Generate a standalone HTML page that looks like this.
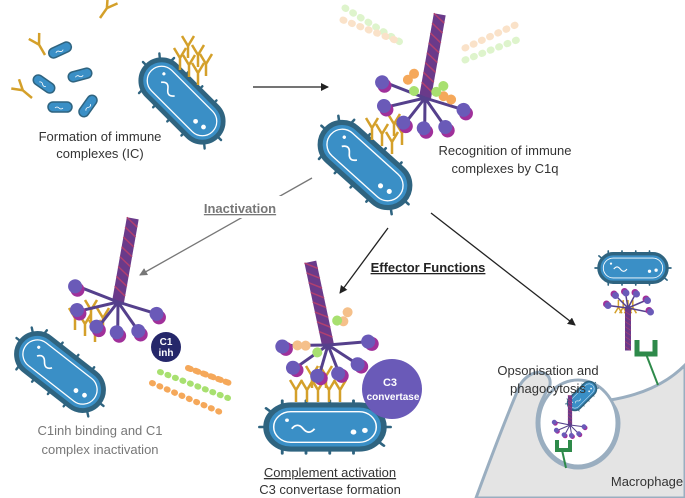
<!DOCTYPE html>
<html><head><meta charset="utf-8"><style>
html,body{margin:0;padding:0;background:#fff;width:685px;height:498px;overflow:hidden}
svg{display:block}
text{font-family:"Liberation Sans",sans-serif;font-size:13px;fill:#333}
</style></head><body>
<svg width="685" height="498" viewBox="0 0 685 498">
<defs>
<g id="bac">
 <g stroke="#2f6480" stroke-width="3" stroke-linecap="round">
  <line x1="-45" y1="-25" x2="-45" y2="-31"/><line x1="-20" y1="-25" x2="-20" y2="-31"/><line x1="5" y1="-25" x2="5" y2="-31"/><line x1="30" y1="-25" x2="30" y2="-31"/>
  <line x1="-45" y1="25" x2="-45" y2="31"/><line x1="-20" y1="25" x2="-20" y2="31"/><line x1="5" y1="25" x2="5" y2="31"/><line x1="30" y1="25" x2="30" y2="31"/>
  <line x1="-62" y1="0" x2="-69" y2="0"/><line x1="62" y1="0" x2="69" y2="0"/>
  <line x1="-56" y1="-17" x2="-62" y2="-22"/><line x1="56" y1="17" x2="62" y2="22"/>
 </g>
 <rect x="-62" y="-26" width="124" height="52" rx="26" fill="#3a8fc6" stroke="#2f6480" stroke-width="6"/>
 <rect x="-54" y="-18" width="108" height="36" rx="18" fill="none" stroke="#fff" stroke-width="1.6"/>
 <path d="M-35,2 q6,-8 12,0 t12,0" fill="none" stroke="#fff" stroke-width="2"/>
 <circle cx="-40" cy="-8" r="2" fill="#fff"/><circle cx="30" cy="6" r="3" fill="#fff"/><circle cx="42" cy="4" r="3" fill="#fff"/>
</g>
<g id="sbac">
 <rect x="-12" y="-5" width="24" height="10" rx="5" fill="#3a8fc6" stroke="#2f6480" stroke-width="1.5"/>
 <path d="M-5,1 q2,-2 4,0 t4,0" fill="none" stroke="#fff" stroke-width="0.8"/>
</g>
<g id="ab" fill="none" stroke="#d4a02a" stroke-width="2.5">
 <path d="M0,0 v-12 M0,-12 l-6,-10 M0,-12 l6,-10"/>
</g>
<g id="c1q">
 <rect x="-6" y="-85" width="12" height="85" fill="#6a3a8a"/>
 <path d="M-6,-85 l12,8 M-6,-75 l12,8 M-6,-65 l12,8 M-6,-55 l12,8 M-6,-45 l12,8 M-6,-35 l12,8 M-6,-25 l12,8 M-6,-15 l12,8" stroke="#b04070" stroke-width="1.5"/>
 <g stroke="#55408c" stroke-width="3" fill="none">
  <path d="M0,0 L-40,-8 M0,0 L-35,15 M0,0 L-15,28 M0,0 L5,30 M0,0 L25,25 M0,0 L40,5"/>
 </g>
 <g fill="#a0309a"><circle cx="-42" cy="-5" r="7"/><circle cx="-36" cy="18" r="7"/><circle cx="-14" cy="31" r="7"/><circle cx="7" cy="33" r="7"/><circle cx="28" cy="28" r="7"/><circle cx="43" cy="8" r="7"/></g>
 <g fill="#6a5ab8"><circle cx="-45" cy="-8" r="7"/><circle cx="-39" cy="15" r="7"/><circle cx="-17" cy="28" r="7"/><circle cx="4" cy="30" r="7"/><circle cx="25" cy="25" r="7"/><circle cx="40" cy="5" r="7"/></g>
</g>
<marker id="ah" markerWidth="8" markerHeight="8" refX="7" refY="4" orient="auto" markerUnits="userSpaceOnUse"><path d="M0,0 L8,4 L0,8z" fill="#222"/></marker>
<marker id="ahg" markerWidth="8" markerHeight="8" refX="7" refY="4" orient="auto" markerUnits="userSpaceOnUse"><path d="M0,0 L8,4 L0,8z" fill="#777"/></marker>
</defs>

<!-- macrophage -->
<path d="M476,498 C490,460 505,420 520,385 C530,368 552,368 550,385 C545,395 537,405 537,423 A41,45 0 0 0 619,423 C619,412 614,405 610,400 C640,395 665,385 685,365 L685,498 Z" fill="#e4e4e4" stroke="#9aaec0" stroke-width="3"/>
<ellipse cx="578" cy="423" rx="39" ry="43" fill="#fff" stroke="#9aaec0" stroke-width="3"/>

<!-- top left small -->
<g transform="translate(60,50) rotate(-25)"><use href="#sbac"/></g>
<g transform="translate(44,84) rotate(35)"><use href="#sbac"/></g>
<g transform="translate(80,75) rotate(-15)"><use href="#sbac"/></g>
<g transform="translate(60,107) rotate(0)"><use href="#sbac"/></g>
<g transform="translate(88,106) rotate(-55)"><use href="#sbac"/></g>
<g transform="translate(100,18) rotate(35)"><use href="#ab"/></g>
<g transform="translate(45,55) rotate(-30)"><use href="#ab"/></g>
<g transform="translate(32,98) rotate(-50)"><use href="#ab"/></g>

<!-- IC bacterium -->
<g transform="translate(182,101) rotate(45) scale(0.8)"><use href="#bac"/></g>
<g transform="translate(180,70)"><use href="#ab"/><g transform="translate(9,7)"><use href="#ab"/></g><g transform="translate(18,15)"><use href="#ab"/></g><g transform="translate(8,-12)"><use href="#ab"/></g><g transform="translate(18,-3)"><use href="#ab"/></g><g transform="translate(26,6)"><use href="#ab"/></g></g>

<!-- top right faded -->
<g opacity="0.45" stroke-width="7" stroke-linecap="round" fill="none">
<path d="M345,8 L405,45" stroke="#b8e890" stroke-dasharray="1 8"/>
<path d="M343,20 L395,40" stroke="#f5c08a" stroke-dasharray="1 8"/>
<path d="M465,48 L522,22" stroke="#f5c08a" stroke-dasharray="1 8"/>
<path d="M465,60 L522,38" stroke="#b8e890" stroke-dasharray="1 8"/>
</g>
<g transform="translate(365,165) rotate(42) scale(0.85)"><use href="#bac"/></g>
<g transform="translate(372,140)"><use href="#ab"/><g transform="translate(10,6)"><use href="#ab"/></g><g transform="translate(20,14)"><use href="#ab"/></g><g transform="translate(22,-4)"><use href="#ab"/></g><g transform="translate(30,5)"><use href="#ab"/></g></g>
<g transform="translate(425,98) rotate(10)"><use href="#c1q"/>
 <g fill="#f5a85a"><circle cx="-20" cy="-15" r="5"/><circle cx="-15" cy="-22" r="5"/><circle cx="18" cy="-5" r="5"/><circle cx="26" cy="-3" r="5"/></g>
 <g fill="#a8e070"><circle cx="-12" cy="-5" r="5"/><circle cx="10" cy="-8" r="5"/><circle cx="16" cy="-15" r="5"/></g>
</g>

<!-- bottom left -->
<g transform="translate(60,372) rotate(38) scale(0.8)"><use href="#bac"/></g>
<g transform="translate(75,330)"><use href="#ab"/><g transform="translate(10,6)"><use href="#ab"/></g><g transform="translate(20,12)"><use href="#ab"/></g><g transform="translate(16,-8)"><use href="#ab"/></g><g transform="translate(28,0)"><use href="#ab"/></g></g>
<g transform="translate(118,302) rotate(10)"><use href="#c1q"/></g>
<circle cx="166" cy="347" r="15" fill="#25276a"/>
<text x="166" y="345" text-anchor="middle" style="fill:#fff;font-size:10px;font-weight:bold">C1</text>
<text x="166" y="356" text-anchor="middle" style="fill:#fff;font-size:10px;font-weight:bold">inh</text>
<g stroke-width="6" stroke-linecap="round" fill="none">
<path d="M160,372 L228,398" stroke="#a8e070" stroke-dasharray="1 7"/>
<path d="M152,383 L220,412" stroke="#f5a85a" stroke-dasharray="1 7"/>
<path d="M188,368 L232,384" stroke="#f5a85a" stroke-dasharray="3 5"/>
</g>

<!-- bottom center -->
<g transform="translate(325,427) scale(0.95,0.85)"><use href="#bac"/></g>
<g transform="translate(296,402)"><use href="#ab"/><g transform="translate(11,0)"><use href="#ab"/></g><g transform="translate(22,0)"><use href="#ab"/></g><g transform="translate(33,0)"><use href="#ab"/></g><g transform="translate(44,0)"><use href="#ab"/></g><g transform="translate(16,-14)"><use href="#ab"/></g><g transform="translate(30,-14)"><use href="#ab"/></g></g>
<g transform="translate(328,345) rotate(-12)"><use href="#c1q"/>
 <g fill="#f5c08a"><circle cx="-30" cy="-6" r="5"/><circle cx="-22" cy="-4" r="5"/><circle cx="20" cy="-20" r="5"/><circle cx="26" cy="-28" r="5"/></g>
 <g fill="#a8e070"><circle cx="-12" cy="5" r="5"/><circle cx="14" cy="-22" r="5"/></g>
</g>
<circle cx="392" cy="389" r="30" fill="#6a5ab8"/>
<text x="390" y="386" text-anchor="middle" style="fill:#fff;font-size:11px;font-weight:bold">C3</text>
<text x="393" y="400" text-anchor="middle" style="fill:#fff;font-size:10px;font-weight:bold">convertase</text>

<!-- opsonisation: top right bacterium + complex -->
<g transform="translate(633,268) scale(0.55)"><use href="#bac"/></g>
<g transform="translate(628,300) rotate(180) scale(0.6)"><use href="#ab"/><g transform="translate(8,0)"><use href="#ab"/></g><g transform="translate(-8,0)"><use href="#ab"/></g><g transform="translate(16,0)"><use href="#ab"/></g></g>
<g transform="translate(628,308) rotate(180) scale(0.5)"><use href="#c1q"/></g>
<path d="M637,340 v14 h18 v-14" fill="none" stroke="#2e8a4a" stroke-width="5"/>
<line x1="646" y1="354" x2="658" y2="385" stroke="#2e8a4a" stroke-width="2"/>
<g transform="translate(582,396) rotate(-45) scale(0.28)"><use href="#bac"/></g>
<g transform="translate(570,425) scale(0.35)"><use href="#c1q"/></g>
<path d="M557,440 v10 h13 v-10" fill="none" stroke="#2e8a4a" stroke-width="4"/>
<line x1="562" y1="450" x2="566" y2="468" stroke="#2e8a4a" stroke-width="2"/>

<!-- arrows -->
<line x1="253" y1="87" x2="328" y2="87" stroke="#222" stroke-width="1.3" marker-end="url(#ah)"/>
<line x1="312" y1="178" x2="140" y2="275" stroke="#777" stroke-width="1.3" marker-end="url(#ahg)"/>
<line x1="388" y1="228" x2="340" y2="293" stroke="#222" stroke-width="1.3" marker-end="url(#ah)"/>
<line x1="431" y1="213" x2="575" y2="325" stroke="#222" stroke-width="1.3" marker-end="url(#ah)"/>
<rect x="198" y="196" width="84" height="22" fill="#fff"/>

<!-- labels -->
<text x="100" y="141" text-anchor="middle">Formation of immune</text>
<text x="100" y="158" text-anchor="middle">complexes (IC)</text>
<text x="505" y="155" text-anchor="middle">Recognition of immune</text>
<text x="505" y="173" text-anchor="middle">complexes by C1q</text>
<text x="240" y="213" text-anchor="middle" style="font-weight:bold;fill:#777;text-decoration:underline">Inactivation</text>
<text x="428" y="272" text-anchor="middle" style="font-weight:bold;fill:#222;text-decoration:underline">Effector Functions</text>
<text x="100" y="435" text-anchor="middle" style="fill:#777">C1inh binding and C1</text>
<text x="100" y="454" text-anchor="middle" style="fill:#777">complex inactivation</text>
<text x="330" y="477" text-anchor="middle" style="text-decoration:underline">Complement activation</text>
<text x="330" y="494" text-anchor="middle">C3 convertase formation</text>
<text x="548" y="375" text-anchor="middle">Opsonisation and</text>
<text x="548" y="393" text-anchor="middle">phagocytosis</text>
<text x="647" y="486" text-anchor="middle">Macrophage</text>
</svg>
</body></html>
